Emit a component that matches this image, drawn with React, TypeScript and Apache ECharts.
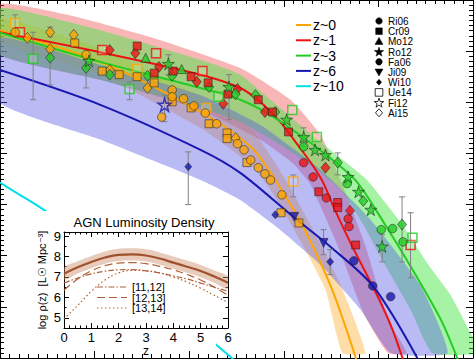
import React, { useEffect, useRef } from 'react';
import * as echarts from 'echarts';

type P = [number, number];
type M = [number, number, number];

// ---------- main panel (log L vs log Phi) ----------
const xMin = 9, xMax = 14, yMin = -9, yMax = -2;
const COLORS = ['#FFA500', '#EE1111', '#22CC22', '#1818B0', '#00E0E8'];
const BAND_FILLS = ['rgba(255,175,50,0.42)', 'rgba(240,80,80,0.42)', 'rgba(70,230,70,0.48)', 'rgba(90,90,230,0.42)'];
const zLabels = ['z~0', 'z~1', 'z~3', 'z~6', 'z~10'];

const orangeLine: P[] = [[9.0, -2.59], [10.06, -3.21], [11.12, -4.19], [11.65, -4.87], [11.92, -5.55], [12.23, -6.53], [12.51, -7.66], [12.76, -8.99], [12.81, -9.32]];
const orangeUpper: P[] = [[9.0, -2.35], [10.06, -2.94], [11.12, -3.89], [11.65, -4.5], [12.02, -5.52], [12.28, -6.39], [12.6, -7.57], [12.86, -8.9]];
const orangeLower: P[] = [[9.0, -2.82], [10.06, -3.46], [11.12, -4.5], [11.65, -5.22], [11.86, -5.71], [12.17, -6.69], [12.44, -7.66], [12.62, -8.9]];

const redLine: P[] = [[9.0, -2.63], [10.06, -3.02], [11.12, -3.46], [11.54, -3.72], [11.75, -3.99], [11.96, -4.38], [12.17, -4.89], [12.3, -5.22], [12.41, -5.55], [12.54, -6.1], [12.7, -6.73], [12.86, -7.31], [13.02, -7.9], [13.15, -8.45], [13.26, -9.03]];
const redUpper: P[] = [[9.0, -2.08], [9.85, -2.35], [10.69, -2.78], [11.54, -3.33], [12.07, -3.95], [12.39, -4.64], [12.6, -5.52], [12.86, -6.79], [13.1, -8.25], [13.3, -8.9]];
const redLower: P[] = [[9.0, -3.07], [10.06, -3.56], [11.12, -4.15], [11.75, -4.73], [12.1, -5.2], [12.28, -5.6], [12.6, -6.94], [12.84, -8.11], [13.1, -8.9]];

const greenLine: P[] = [[9.0, -2.64], [10.06, -3.21], [11.12, -3.72], [11.54, -3.95], [11.86, -4.25], [12.17, -4.64], [12.49, -5.09], [12.77, -5.55], [13.07, -6.39], [13.36, -7.27], [13.66, -8.25], [13.84, -9.03]];
const greenUpper: P[] = [[9.0, -2.16], [10.06, -2.59], [11.12, -3.17], [11.54, -3.46], [11.86, -3.95], [12.17, -4.44], [12.49, -4.93], [12.88, -5.52], [13.25, -6.39], [13.53, -7.18], [13.76, -7.76], [13.97, -8.5], [14.08, -8.9]];
const greenLower: P[] = [[9.0, -3.07], [10.06, -3.56], [11.12, -4.11], [11.54, -4.38], [11.96, -4.83], [12.28, -5.22], [12.6, -5.71], [12.84, -6.39], [13.07, -7.18], [13.34, -8.05], [13.57, -8.9]];

const blueLine: P[] = [[9.0, -3.37], [10.06, -4.05], [11.12, -4.93], [11.54, -5.38], [12.1, -6.24], [12.49, -6.82], [12.95, -7.61], [13.42, -9.03]];
const blueUpper: P[] = [[9.0, -2.74], [10.06, -3.27], [11.12, -3.86], [11.75, -4.44], [12.39, -5.32], [12.92, -6.3], [13.44, -7.57], [13.73, -8.9]];
const blueLower: P[] = [[9.0, -4.01], [10.06, -4.73], [11.12, -5.52], [11.54, -5.91], [11.96, -6.49], [12.39, -7.18], [12.81, -8.05], [13.13, -8.9]];

const cyanLine: P[] = [[9.0, -5.57], [9.21, -5.81], [9.46, -6.1], [10.06, -6.88], [10.69, -7.76], [11.31, -8.78], [11.47, -9.03]];

// data points: [logL, logPhi, redshift bin index]
const ri06: M[] = [[9.16, -2.63, 0], [10.82, -3.76, 0], [10.82, -3.89, 0], [10.71, -4.29, 0], [10.94, -3.93, 0], [11.05, -4.07, 0], [11.17, -4.21, 0], [11.29, -4.42, 0], [11.51, -4.81, 0], [11.86, -5.52, 0], [11.98, -5.81, 0], [9.91, -3.07, 0],
  [11.58, -4.93, 0], [11.65, -5.13, 0], [11.73, -5.28, 0], [11.8, -5.4, 0],
  [12.45, -5.87, 1], [12.68, -6.28, 1], [12.69, -6.43, 1], [12.21, -5.18, 1], [12.31, -5.46, 1],
  [12.67, -5.59, 2], [13.03, -6.49, 2], [13.15, -6.47, 2], [13.26, -6.73, 2], [12.21, -4.87, 2]];
const cr09: M[] = [[10.08, -3.39, 0], [10.26, -3.46, 0], [10.45, -3.5, 0], [10.63, -3.62, 0], [10.82, -3.99, 0], [11.02, -4.11, 0], [11.21, -4.42, 0], [11.4, -4.6, 0], [11.4, -4.71, 0], [11.97, -6.16, 0], [12.16, -6.36, 0], [9.79, -2.84, 0], [11.61, -5.18, 0],
  [10.45, -2.9, 1], [10.63, -3.43, 1], [10.83, -3.39, 1], [11.02, -3.5, 1], [11.2, -3.62, 1], [11.41, -3.84, 1], [12.37, -5.75, 1], [12.57, -5.96, 1], [12.57, -6.06, 1], [12.76, -6.79, 1],
  [11.73, -3.95, 1], [11.88, -4.19, 1], [12.05, -4.58, 1]];
const mo12: M[] = [[10.54, -3.13, 2], [10.92, -3.35, 2]];
const ro12: M[] = [[9.94, -3.19, 2], [10.78, -3.25, 2], [11.42, -3.7, 2], [12.79, -5.75, 2], [12.92, -6.1, 2], [13.04, -6.82, 2],
  [12.03, -4.34, 2], [12.21, -4.68, 2], [12.33, -4.93, 2], [12.44, -5.03, 2], [12.68, -5.46, 2]];
const fa06: M[] = [[12.74, -7.1, 3], [12.94, -7.59, 3], [13.13, -7.8, 3]];
const ji09: M[] = [[12.11, -6.24, 3], [12.42, -6.75, 3]];
const wi10: M[] = [[10.99, -5.26, 3], [11.91, -6.2, 3], [12.49, -7.12, 3]];
const ue14: M[] = [[9.16, -2.45, 0], [10.45, -3.35, 0], [11.18, -4.11, 0], [12.1, -5.55, 0],
  [9.21, -2.63, 1], [10.08, -2.98, 1], [10.65, -3.04, 1], [11.14, -3.39, 1], [13.34, -6.79, 1],
  [9.35, -3.15, 2], [10.37, -3.74, 2], [11.31, -3.89, 2], [13.36, -6.65, 2], [12.09, -4.15, 2], [12.35, -4.68, 2]];
const fi12: M[] = [[10.74, -4.05, 3]];
const ai15: M[] = [[9.29, -2.74, 0], [9.53, -2.63, 0], [9.53, -2.96, 0], [9.78, -2.68, 0], [10.16, -3.37, 0], [10.56, -3.72, 0], [11.49, -4.7, 0],
  [10.16, -2.98, 1], [10.43, -3.04, 1], [10.68, -3.31, 1], [11.08, -3.6, 1], [11.36, -4.03, 1], [11.51, -3.74, 1], [12.7, -6.12, 1], [11.8, -4.19, 1], [12.44, -5.28, 1],
  [9.53, -3.13, 2], [9.91, -3.33, 2], [10.16, -3.46, 2], [10.56, -3.48, 2], [10.82, -3.48, 2], [11.21, -3.7, 2], [11.49, -3.84, 2], [12.84, -5.93, 2], [13.25, -6.39, 2], [11.7, -3.86, 2], [11.91, -4.19, 2], [12.57, -5.18, 2]];

// error bars: [logL, low, high]
const errBars: [number, number, number][] = [[9.16, -2.64, -2.29], [9.35, -3.95, -2.63], [9.53, -2.72, -2.53], [9.53, -3.66, -2.96], [9.91, -3.72, -3.07], [10.37, -3.95, -3.6], [10.74, -4.38, -3.86], [10.78, -3.46, -3.07], [10.99, -6.0, -4.97], [11.42, -4.34, -3.46], [12.1, -5.85, -5.42], [12.42, -6.98, -6.49], [12.49, -7.37, -6.88], [13.25, -7.12, -5.85], [13.04, -7.12, -6.59], [13.34, -7.43, -6.16], [12.57, -5.42, -4.99], [12.21, -4.85, -4.5]];

const sourceNames = ['Ri06', 'Cr09', 'Mo12', 'Ro12', 'Fa06', 'Ji09', 'Wi10', 'Ue14', 'Fi12', 'Ai15'];

// ---------- inset (AGN luminosity density) ----------
const insetZ = [0, 0.5, 1, 1.5, 2, 2.5, 3, 3.5, 4, 4.5, 5, 5.5, 6];
const rhoTotal = [7.16, 7.47, 7.73, 7.95, 8.08, 8.1, 8.05, 7.9, 7.7, 7.5, 7.29, 7.02, 6.72];
const rhoUpper = [7.46, 7.77, 8.03, 8.25, 8.38, 8.4, 8.35, 8.2, 8.0, 7.8, 7.59, 7.32, 7.02];
const rhoLower = [6.86, 7.17, 7.43, 7.65, 7.78, 7.8, 7.75, 7.6, 7.4, 7.2, 6.99, 6.72, 6.42];
const rho1112 = [6.7, 6.95, 7.15, 7.28, 7.35, 7.36, 7.3, 7.2, 7.05, 6.9, 6.7, 6.5, 6.3];
const rho1213 = [6.35, 6.9, 7.3, 7.55, 7.68, 7.7, 7.65, 7.52, 7.35, 7.12, 6.85, 6.5, 6.1];
const rho1314 = [4.95, 5.6, 6.3, 6.85, 7.2, 7.32, 7.3, 7.2, 7.0, 6.75, 6.45, 6.1, 5.75];
const insetLegend = ['[11,12]', '[12,13]', '[13,14]'];

const FONT = '"Liberation Sans", Arial, Helvetica, sans-serif';
const starPath = 'path://M50,2 L61,36 L97,36 L68,57 L79,92 L50,71 L21,92 L32,57 L3,36 L39,36 Z';

function starPoints(cx: number, cy: number, R: number, r: number): number[][] {
  const pts: number[][] = [];
  for (let i = 0; i < 10; i++) {
    const a = -Math.PI / 2 + (i * Math.PI) / 5;
    const rr = i % 2 === 0 ? R : r;
    pts.push([cx + rr * Math.cos(a), cy + rr * Math.sin(a)]);
  }
  return pts;
}

function band(upper: P[], lower: P[], fill: string, z: number) {
  return {
    type: 'custom', xAxisIndex: 0, yAxisIndex: 0, clip: true, silent: true, z,
    data: [[upper[0][0], upper[0][1]]],
    renderItem: (_p: any, api: any) => {
      const pts = upper.map((p) => api.coord(p)).concat(lower.slice().reverse().map((p) => api.coord(p)));
      return { type: 'polygon', shape: { points: pts, smooth: 0.15 }, style: { fill, stroke: 'none' } };
    },
  };
}

function line(data: P[], color: string, z: number) {
  return {
    type: 'line', xAxisIndex: 0, yAxisIndex: 0, data, smooth: 0.3, showSymbol: false, symbol: 'none', silent: true, z,
    lineStyle: { color, width: 2 },
  };
}

function markers(data: M[], symbol: string, size: number | number[], open: boolean, rotate = 0) {
  return {
    type: 'scatter', xAxisIndex: 0, yAxisIndex: 0, symbol, symbolSize: size, symbolRotate: rotate, silent: true, z: 8,
    data: data.map((d) => ({
      value: [d[0], d[1]],
      itemStyle: open
        ? { color: 'rgba(255,255,255,0.25)', borderColor: COLORS[d[2]], borderWidth: 1.5 }
        : { color: COLORS[d[2]], borderColor: '#222', borderWidth: 0.7 },
    })),
  };
}

function mainAxis(kind: 'x' | 'y', position: string) {
  return {
    type: 'value', gridIndex: 0, position,
    min: kind === 'x' ? xMin : yMin, max: kind === 'x' ? xMax : yMax, interval: 1,
    axisLine: { show: true, onZero: false, lineStyle: { color: '#000', width: 1 } },
    axisTick: { show: true, inside: true, length: 7, lineStyle: { color: '#000' } },
    minorTick: { show: true, splitNumber: 10, length: 4, lineStyle: { color: '#000' } },
    axisLabel: { show: false }, splitLine: { show: false }, minorSplitLine: { show: false },
  };
}

function insetAxis(kind: 'x' | 'y', position: string, labels: boolean) {
  const base: any = {
    type: 'value', gridIndex: 1, position, z: 20,
    axisLine: { show: true, onZero: false, lineStyle: { color: '#000', width: 1 } },
    axisTick: { show: true, inside: true, length: 5, lineStyle: { color: '#000' } },
    minorTick: { show: true, splitNumber: kind === 'x' ? 5 : 2, length: 2.5, lineStyle: { color: '#000' } },
    splitLine: { show: false },
    axisLabel: { show: labels, color: '#000', fontSize: 13, fontFamily: FONT, margin: 3, showMinLabel: kind === 'x', showMaxLabel: kind === 'x' },
  };
  if (kind === 'x') {
    Object.assign(base, { min: 0, max: 6, interval: 1 });
    if (labels) Object.assign(base, { name: 'z', nameLocation: 'middle', nameGap: 17, nameTextStyle: { fontSize: 12, fontFamily: FONT, color: '#000' } });
  } else {
    Object.assign(base, { min: 4.5, max: 9.2, splitNumber: 5 });
    if (labels) Object.assign(base, { name: 'log ρ(z)  [L☉ Mpc⁻³]', nameLocation: 'middle', nameRotate: 90, nameGap: 17, nameTextStyle: { fontSize: 11, fontFamily: FONT, color: '#000' } });
  }
  return base;
}

function insetLine(vals: number[], color: string, width: number, type: any) {
  return {
    type: 'line', xAxisIndex: 2, yAxisIndex: 2, data: insetZ.map((z, i) => [z, vals[i]]), smooth: 0.4,
    showSymbol: false, symbol: 'none', silent: true, z: 22, lineStyle: { color, width, type },
  };
}

export default function App() {
  const ref = useRef<HTMLDivElement>(null);
  useEffect(() => {
    if (!ref.current) return;
    const chart = echarts.init(ref.current, null, { renderer: 'svg' });

    const graphic: any[] = [];
    graphic.push({ type: 'rect', z: 15, shape: { x: 30, y: 211, width: 186, height: 139 }, style: { fill: '#fff' } });
    graphic.push({ type: 'text', z: 25, x: 144, y: 222, style: { text: 'AGN Luminosity Density', font: `13px ${FONT}`, fill: '#000', align: 'center', verticalAlign: 'middle' } });
    const insetTypes: any[] = [[6, 2, 1.5, 2], [8, 4], [1.5, 2.5]];
    insetLegend.forEach((t, i) => {
      const y = 287 + i * 10.5;
      graphic.push({ type: 'line', z: 25, shape: { x1: 97, y1: y, x2: 127, y2: y }, style: { stroke: '#B0603A', lineWidth: 1.2, lineDash: insetTypes[i] } });
      graphic.push({ type: 'text', z: 25, x: 132, y, style: { text: t, font: `11px ${FONT}`, fill: '#000', verticalAlign: 'middle' } });
    });
    zLabels.forEach((t, i) => {
      const y = 25 + i * 15.3;
      graphic.push({ type: 'line', z: 30, shape: { x1: 296, y1: y, x2: 311, y2: y }, style: { stroke: COLORS[i], lineWidth: 2 } });
      graphic.push({ type: 'text', z: 30, x: 313, y, style: { text: t, font: `14px ${FONT}`, fill: '#000', verticalAlign: 'middle' } });
    });
    sourceNames.forEach((t, i) => {
      const y = 21 + i * 10.2;
      const cx = 379;
      let el: any;
      const solid = { fill: '#000', stroke: '#000', lineWidth: 0.5 };
      const open = { fill: 'none', stroke: '#000', lineWidth: 0.8 };
      switch (t) {
        case 'Ri06': case 'Fa06': el = { type: 'circle', shape: { cx, cy: y, r: 3.3 }, style: solid }; break;
        case 'Cr09': el = { type: 'rect', shape: { x: cx - 3.3, y: y - 3.3, width: 6.6, height: 6.6 }, style: solid }; break;
        case 'Mo12': el = { type: 'polygon', shape: { points: [[cx, y - 4], [cx + 4, y + 3], [cx - 4, y + 3]] }, style: solid }; break;
        case 'Ji09': el = { type: 'polygon', shape: { points: [[cx, y + 4], [cx + 4, y - 3], [cx - 4, y - 3]] }, style: solid }; break;
        case 'Ro12': el = { type: 'polygon', shape: { points: starPoints(cx, y + 0.5, 5, 2) }, style: solid }; break;
        case 'Fi12': el = { type: 'polygon', shape: { points: starPoints(cx, y + 0.5, 5, 2) }, style: open }; break;
        case 'Wi10': el = { type: 'polygon', shape: { points: [[cx, y - 3], [cx + 2.6, y], [cx, y + 3], [cx - 2.6, y]] }, style: solid }; break;
        case 'Ue14': el = { type: 'rect', shape: { x: cx - 3.8, y: y - 3.8, width: 7.6, height: 7.6 }, style: open }; break;
        default: el = { type: 'polygon', shape: { points: [[cx, y - 4], [cx + 3.5, y], [cx, y + 4], [cx - 3.5, y]] }, style: open };
      }
      graphic.push({ ...el, z: 30 });
      graphic.push({ type: 'text', z: 30, x: 388, y: y + 0.5, style: { text: t, font: `10px ${FONT}`, fill: '#000', verticalAlign: 'middle' } });
    });

    const series: any[] = [
      band(redUpper, redLower, BAND_FILLS[1], 1),
      band(orangeUpper, orangeLower, BAND_FILLS[0], 1),
      band(greenUpper, greenLower, BAND_FILLS[2], 1),
      band(blueUpper, blueLower, BAND_FILLS[3], 1),
      line(orangeLine, COLORS[0], 3),
      line(redLine, COLORS[1], 3),
      line(greenLine, COLORS[2], 3),
      line(blueLine, COLORS[3], 3),
      line(cyanLine, COLORS[4], 3),
      {
        type: 'custom', xAxisIndex: 0, yAxisIndex: 0, silent: true, z: 6, clip: true,
        encode: { x: 0, y: [1, 2] }, data: errBars,
        renderItem: (_p: any, api: any) => {
          const x = api.value(0);
          const a = api.coord([x, api.value(1)]);
          const b = api.coord([x, api.value(2)]);
          const st = { stroke: '#808080', lineWidth: 1 };
          return {
            type: 'group', children: [
              { type: 'line', shape: { x1: a[0], y1: a[1], x2: b[0], y2: b[1] }, style: st },
              { type: 'line', shape: { x1: a[0] - 3, y1: a[1], x2: a[0] + 3, y2: a[1] }, style: st },
              { type: 'line', shape: { x1: b[0] - 3, y1: b[1], x2: b[0] + 3, y2: b[1] }, style: st },
            ],
          };
        },
      },
      markers(ai15, 'diamond', [9, 11], false),
      markers(ue14, 'rect', 9, true),
      markers(cr09, 'rect', 8, false),
      markers(ri06, 'circle', 8.5, false),
      markers(fa06, 'circle', 8.5, false),
      markers(mo12, 'triangle', 9, false),
      markers(ji09, 'triangle', 9, false, 180),
      markers(wi10, 'diamond', [7, 8], false),
      markers(ro12, starPath, 12, false),
      markers(fi12, starPath, 13, true),
      {
        type: 'custom', xAxisIndex: 2, yAxisIndex: 2, silent: true, z: 21, clip: true,
        data: [[0, rhoUpper[0]]],
        renderItem: (_p: any, api: any) => {
          const up = insetZ.map((z, i) => api.coord([z, rhoUpper[i]]));
          const lo = insetZ.map((z, i) => api.coord([z, rhoLower[i]])).reverse();
          return { type: 'polygon', shape: { points: up.concat(lo), smooth: 0.3 }, style: { fill: 'rgba(205,140,105,0.45)' } };
        },
      },
      insetLine(rhoTotal, '#A0522D', 2.2, 'solid'),
      insetLine(rho1112, '#B0603A', 1.2, [6, 2, 1.5, 2]),
      insetLine(rho1213, '#B0603A', 1.2, [8, 4]),
      insetLine(rho1314, '#B0603A', 1.2, [1.5, 2.5]),
    ];

    chart.setOption({
      animation: false,
      backgroundColor: '#fff',
      grid: [
        { left: 0, top: 0, right: 1, bottom: 2, containLabel: false },
        { left: 64, top: 232, width: 164, height: 96, containLabel: false, z: 20 },
      ],
      xAxis: [mainAxis('x', 'bottom'), mainAxis('x', 'top'), insetAxis('x', 'bottom', true), insetAxis('x', 'top', false)],
      yAxis: [mainAxis('y', 'left'), mainAxis('y', 'right'), insetAxis('y', 'left', true), insetAxis('y', 'right', false)],
      series,
      graphic,
    });
    return () => chart.dispose();
  }, []);
  return <div ref={ref} style={{ position: 'fixed', left: 0, top: 0, width: 474, height: 360 }} />;
}
